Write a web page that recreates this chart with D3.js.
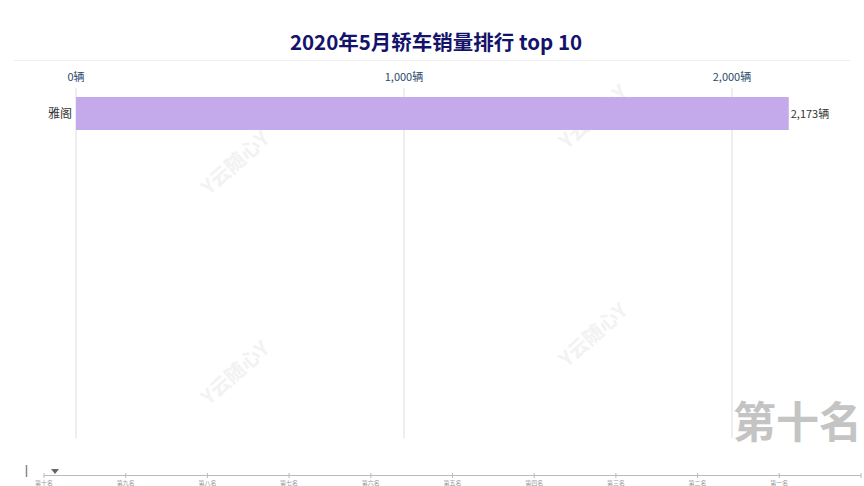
<!DOCTYPE html>
<html><head><meta charset="utf-8">
<script src="https://cdn.jsdelivr.net/npm/d3@7"></script>
<style>body{margin:0;background:#fff;font-family:"Noto Sans CJK SC","Noto Sans",sans-serif;}</style>
</head><body><svg id="c" width="864" height="486"></svg>
<script>
const title = "2020年5月轿车销量排行 top 10";
const categories = ["雅阁"];
const values = [2173];
const xTicks = [0, 1000, 2000];
const unit = "辆";
const timeline = ["第十名","第九名","第八名","第七名","第六名","第五名","第四名","第三名","第二名","第一名"];
const currentStep = "第十名";

const svg = d3.select("#c");
const font = '"Noto Sans CJK SC","Noto Sans",sans-serif';

svg.append("text").attr("x",436).attr("y",50).attr("text-anchor","middle")
  .attr("font-family",font).attr("font-weight","bold").attr("font-size",20.5).attr("fill","#14136b").text(title);
svg.append("line").attr("x1",14).attr("x2",850).attr("y1",60.5).attr("y2",60.5).attr("stroke","#eeeeee");

// watermarks
const wm = [[240,168],[598,122],[598,340],[240,378]];
wm.forEach(([x,y])=>{
  svg.append("text").attr("transform",`translate(${x},${y}) rotate(-42)`).attr("text-anchor","middle")
    .attr("font-family",font).attr("font-weight","bold").attr("font-size",20).attr("fill","#f2f2f2").text("Y云随心Y");
});

const x = d3.scaleLinear().domain([0,1000]).range([76,404]);
const y = d3.scaleBand().domain(categories).range([97,130]);

const g = svg.append("g");
xTicks.forEach(t=>{
  g.append("line").attr("x1",x(t)).attr("x2",x(t)).attr("y1",88).attr("y2",438).attr("stroke","#dddddd");
  g.append("text").attr("x",x(t)).attr("y",81).attr("text-anchor","middle").attr("font-family",font)
    .attr("font-size",11).attr("fill","#2c4a6e").text(d3.format(",")(t)+unit);
});

categories.forEach((c,i)=>{
  g.append("rect").attr("x",x(0)).attr("y",y(c)).attr("width",x(values[i])-x(0)).attr("height",y.bandwidth()).attr("fill","#c4aaea");
  g.append("text").attr("x",x(0)-4).attr("y",y(c)+y.bandwidth()/2+4).attr("text-anchor","end").attr("font-family",font)
    .attr("font-size",12).attr("fill","#333").text(c);
  g.append("text").attr("x",x(values[i])+2).attr("y",y(c)+y.bandwidth()/2+4).attr("font-family",font)
    .attr("font-size",11).attr("fill","#333").text(d3.format(",")(values[i])+unit);
});

svg.append("text").attr("x",862).attr("y",438).attr("text-anchor","end").attr("font-family",font)
  .attr("font-weight","bold").attr("font-size",43).attr("fill","#c4c4c4").text(currentStep);

// timeline
const tx = d3.scalePoint().domain(timeline.concat(["end"])).range([44,861]);
svg.append("line").attr("x1",44).attr("x2",861).attr("y1",475.5).attr("y2",475.5).attr("stroke","#bbbbbb");
timeline.concat(["end"]).forEach(t=>{
  svg.append("line").attr("x1",tx(t)).attr("x2",tx(t)).attr("y1",473).attr("y2",478).attr("stroke","#bbbbbb");
});
timeline.forEach(t=>{
  svg.append("text").attr("x",tx(t)).attr("y",485).attr("text-anchor","middle").attr("font-family",font)
    .attr("font-size",6).attr("fill","#999").text(t);
});
svg.append("path").attr("d","M51,469 L59,469 L55,474 Z").attr("fill","#666");
svg.append("line").attr("x1",26.5).attr("x2",26.5).attr("y1",465).attr("y2",477).attr("stroke","#888").attr("stroke-width",1.5);
</script></body></html>
